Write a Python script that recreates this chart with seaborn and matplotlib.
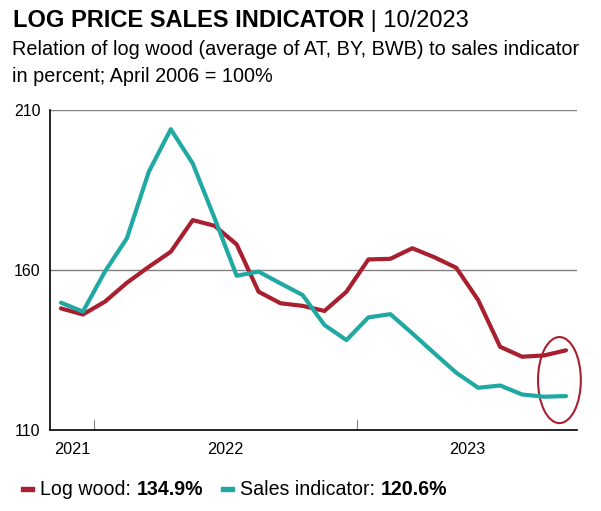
import numpy as np
import pandas as pd
import matplotlib
matplotlib.use('Agg')
import matplotlib.pyplot as plt
import seaborn as sns
from matplotlib.patches import Ellipse

# 월별 데이터 (2021/11 ~ 2023/10)
months = pd.date_range('2021-11-01', '2023-10-01', freq='MS').strftime('%Y-%m').tolist()
log_wood = [148.0, 146.1, 150.1, 156.0, 161.0, 165.7, 175.6, 173.8, 168.0, 153.2, 149.6, 148.8,
            147.2, 153.2, 163.3, 163.5, 166.8, 164.0, 160.7, 150.6, 136.0, 132.9, 133.3, 134.9]
sales_ind = [149.8, 147.0, 159.5, 169.9, 190.7, 204.0, 193.3, 176.1, 158.2, 159.5, 155.8, 152.2,
             142.8, 138.1, 145.2, 146.2, 140.2, 134.0, 127.9, 123.2, 123.9, 121.1, 120.4, 120.6]
year_labels = ['2021', '2022', '2023']

red = '#A8202F'
teal = '#1FA9A2'

df = pd.DataFrame({'idx': range(len(months)), 'Log wood': log_wood, 'Sales indicator': sales_ind})
df = df.melt(id_vars='idx', var_name='series', value_name='value')

sns.set_style('white', {'text.color': 'black', 'xtick.color': 'black', 'ytick.color': 'black'})
plt.rcParams['font.family'] = ['Liberation Sans', 'DejaVu Sans']

fig = plt.figure(figsize=(6.01, 5.11), dpi=100)
ax = fig.add_axes([50 / 601, 1 - 430 / 511, 527 / 601, 320 / 511])

sns.lineplot(data=df, x='idx', y='value', hue='series', palette=[red, teal],
             linewidth=3.0, ax=ax, legend=False)

ax.set_xlim(-0.5, 23.5)
ax.set_ylim(110, 210)
ax.set_yticks([110, 160, 210])
ax.tick_params(axis='y', length=0, labelsize=11.5, pad=7, labelcolor='black')
ax.axhline(160, color='#808080', lw=1, zorder=0)
ax.axhline(210, color='#808080', lw=1, zorder=0)

# 연도 구분선
for b in [1.5, 13.5]:
    ax.plot([b, b], [110, 113], color='#808080', lw=0.8, clip_on=False)
ax.set_xticks([0.5, 7.5, 18.5])
ax.set_xticklabels(year_labels)
ax.tick_params(axis='x', length=0, labelsize=11.7, pad=8.5, labelcolor='black')
ax.set_xlabel('')
ax.set_ylabel('')

for s in ['top', 'right']:
    ax.spines[s].set_visible(False)
for s in ['left', 'bottom']:
    ax.spines[s].set_color('black')
    ax.spines[s].set_linewidth(1.2)

# 손으로 그린 원
ax.add_patch(Ellipse((22.7, 125.6), 1.95, 26.9, fill=False, edgecolor=red, lw=1.5, clip_on=False))

# 제목
t1 = fig.text(13 / 601, 1 - 27 / 511, 'LOG PRICE SALES INDICATOR', fontsize=17, fontweight='bold',
              color='black')
fig.canvas.draw()
r = fig.canvas.get_renderer()
bb = t1.get_window_extent(r)
fig.text(bb.x1 / 601, 1 - 27 / 511, ' | 10/2023', fontsize=17, color='black')
fig.text(12 / 601, 1 - 55 / 511, 'Relation of log wood (average of AT, BY, BWB) to sales indicator',
         fontsize=14.3, color='black')
fig.text(12 / 601, 1 - 81.5 / 511, 'in percent; April 2006 = 100%', fontsize=14.3, color='black')

# 범례
def legend_item(x, color, label, value):
    fig.patches.append(plt.Rectangle((x / 601, 1 - 490.7 / 511), 13 / 601, 3.4 / 511,
                                     transform=fig.transFigure, color=color, figure=fig))
    a = fig.text((x + 19) / 601, 1 - 495 / 511, label, fontsize=14.1, color='black')
    fig.canvas.draw()
    e = a.get_window_extent(r)
    b = fig.text(e.x1 / 601, 1 - 495 / 511, value, fontsize=14.1, fontweight='bold', color='black')
    fig.canvas.draw()
    return b.get_window_extent(r).x1

legend_item(21, red, 'Log wood: ', '134.9%')
legend_item(221, teal, 'Sales indicator: ', '120.6%')

fig.savefig('out.png', dpi=100)
